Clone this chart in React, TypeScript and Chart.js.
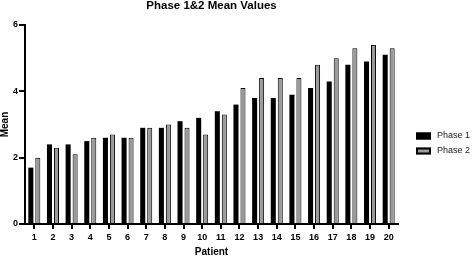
import React, { useEffect, useRef } from "react";
import { Chart, registerables } from "chart.js";

Chart.register(...registerables);

const patients = ["1","2","3","4","5","6","7","8","9","10","11","12","13","14","15","16","17","18","19","20"];
const phase1 = [1.7, 2.4, 2.4, 2.5, 2.6, 2.6, 2.9, 2.9, 3.1, 3.2, 3.4, 3.6, 3.8, 3.8, 3.9, 4.1, 4.3, 4.8, 4.9, 5.1];
const phase2 = [2.0, 2.3, 2.1, 2.6, 2.7, 2.6, 2.9, 3.0, 2.9, 2.7, 3.3, 4.1, 4.4, 4.4, 4.4, 4.8, 5.0, 5.3, 5.4, 5.3];
const seriesNames = ["Phase 1", "Phase 2"];
const yTicks = [0, 2, 4, 6];

const FONT = "'Liberation Sans', Arial, Helvetica, sans-serif";

// Legend drawn to the right of the plot, one swatch + label per dataset
const sideLegend = {
  id: "sideLegend",
  afterDraw(chart: any) {
    const { ctx, chartArea } = chart;
    const x = chartArea.right + 18;
    const rows = [136, 151];
    ctx.save();
    chart.data.datasets.forEach((ds: any, i: number) => {
      const y = rows[i];
      ctx.fillStyle = ds.backgroundColor;
      ctx.fillRect(x, y - 3.5, 15, 7);
      ctx.strokeStyle = "#000";
      ctx.lineWidth = 2;
      ctx.strokeRect(x + 1, y - 2.5, 13, 5);
      ctx.fillStyle = "#222";
      ctx.font = `9px ${FONT}`;
      ctx.textAlign = "left";
      ctx.textBaseline = "middle";
      ctx.fillText(ds.label, x + 21, y);
    });
    ctx.restore();
  },
};

export default function App() {
  const ref = useRef<HTMLCanvasElement | null>(null);

  useEffect(() => {
    if (!ref.current) return;
    const chart = new Chart(ref.current, {
      type: "bar",
      data: {
        labels: patients,
        datasets: [
          {
            label: seriesNames[0],
            data: phase1,
            backgroundColor: "#000000",
            borderColor: "#000000",
            borderWidth: 0,
            categoryPercentage: 0.75,
            barPercentage: 0.72,
          },
          {
            label: seriesNames[1],
            data: phase2,
            backgroundColor: "#9a9a9a",
            borderColor: "#000000",
            borderWidth: 1,
            categoryPercentage: 0.75,
            barPercentage: 0.72,
          },
        ],
      },
      options: {
        responsive: false,
        animation: false,
        layout: { padding: { left: 0, right: 76, top: 0, bottom: 0 } },
        plugins: {
          legend: { display: false },
          tooltip: { enabled: false },
          title: {
            display: true,
            text: "Phase 1&2 Mean Values",
            fullSize: false,
            color: "#000",
            font: { family: FONT, size: 11.5, weight: "bold", lineHeight: 1 },
            padding: { top: 0.5, bottom: 13 },
          },
        },
        scales: {
          x: {
            offset: true,
            grid: {
              offset: false,
              drawOnChartArea: false,
              drawTicks: true,
              tickLength: 5,
              color: "#000",
              lineWidth: 2,
            },
            border: { display: true, color: "#000", width: 2 },
            ticks: {
              color: "#000",
              padding: 3,
              maxRotation: 0,
              autoSkip: false,
              font: { family: FONT, size: 9, weight: "bold" },
            },
            title: {
              display: true,
              text: "Patient",
              color: "#000",
              font: { family: FONT, size: 10, weight: "bold", lineHeight: 1 },
              padding: { top: 0, bottom: 0 },
            },
            afterFit: (scale: any) => {
              scale.height = 33;
            },
          },
          y: {
            min: 0,
            max: 6,
            afterBuildTicks: (scale: any) => {
              scale.ticks = yTicks.map((v) => ({ value: v }));
            },
            grid: {
              drawOnChartArea: false,
              drawTicks: true,
              tickLength: 6,
              color: "#000",
              lineWidth: 2,
            },
            border: { display: true, color: "#000", width: 2 },
            ticks: {
              color: "#000",
              padding: 1,
              font: { family: FONT, size: 9, weight: "bold" },
            },
            title: {
              display: true,
              text: "Mean",
              color: "#000",
              font: { family: FONT, size: 10, weight: "bold", lineHeight: 1 },
              padding: { top: 0.5, bottom: 0 },
            },
            afterFit: (scale: any) => {
              scale.width = 25;
            },
          },
        },
      },
      plugins: [sideLegend],
    });
    return () => chart.destroy();
  }, []);

  return (
    <div style={{ position: "fixed", left: 0, top: 0, width: 474, height: 257, background: "#fff" }}>
      <canvas ref={ref} width={474} height={257} style={{ display: "block" }} />
    </div>
  );
}
